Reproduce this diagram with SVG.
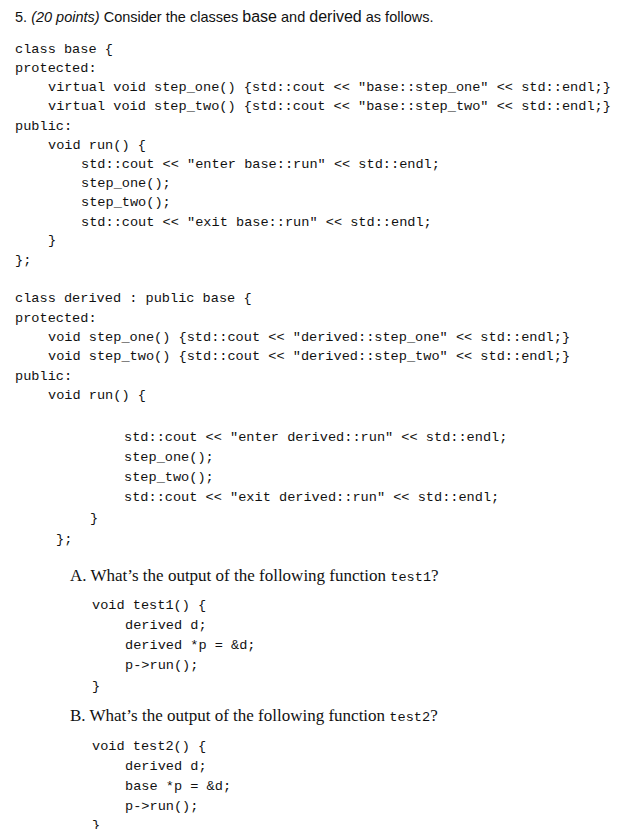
<svg xmlns="http://www.w3.org/2000/svg" width="622" height="829" viewBox="0 0 622 829">
<style>
.m{font-family:"Liberation Mono",monospace;font-size:13.6px;fill:#111;white-space:pre}
.s{font-family:"Liberation Serif",serif;font-size:17px;fill:#111}
.t{font-family:"Liberation Sans",sans-serif;font-size:14.5px;fill:#111}
</style>
<rect width="622" height="829" fill="#fff"/>
<g id="title"><text class="t" x="15" y="22">5. <tspan font-style="italic">(20 points)</tspan> Consider the classes <tspan font-size="16">base</tspan> and <tspan font-size="16">derived</tspan> as follows.</text></g>
<g id="base">
<text class="m" x="15" y="53">class base {</text>
<text class="m" x="15" y="72">protected:</text>
<text class="m" x="48" y="91">virtual void step_one() {std::cout &lt;&lt; "base::step_one" &lt;&lt; std::endl;}</text>
<text class="m" x="48" y="110">virtual void step_two() {std::cout &lt;&lt; "base::step_two" &lt;&lt; std::endl;}</text>
<text class="m" x="15" y="130">public:</text>
<text class="m" x="48" y="149">void run() {</text>
<text class="m" x="81" y="168">std::cout &lt;&lt; "enter base::run" &lt;&lt; std::endl;</text>
<text class="m" x="81" y="187">step_one();</text>
<text class="m" x="81" y="206">step_two();</text>
<text class="m" x="81" y="226">std::cout &lt;&lt; "exit base::run" &lt;&lt; std::endl;</text>
<text class="m" x="48" y="244">}</text>
<text class="m" x="15" y="264">};</text>
</g>
<g id="derived">
<text class="m" x="15" y="302">class derived : public base {</text>
<text class="m" x="15" y="322">protected:</text>
<text class="m" x="48" y="341">void step_one() {std::cout &lt;&lt; "derived::step_one" &lt;&lt; std::endl;}</text>
<text class="m" x="48" y="360">void step_two() {std::cout &lt;&lt; "derived::step_two" &lt;&lt; std::endl;}</text>
<text class="m" x="15" y="380">public:</text>
<text class="m" x="48" y="399">void run() {</text>
<text class="m" x="124" y="441">std::cout &lt;&lt; "enter derived::run" &lt;&lt; std::endl;</text>
<text class="m" x="124" y="461">step_one();</text>
<text class="m" x="124" y="481">step_two();</text>
<text class="m" x="124" y="501">std::cout &lt;&lt; "exit derived::run" &lt;&lt; std::endl;</text>
<text class="m" x="90" y="522">}</text>
<text class="m" x="56" y="543">};</text>
</g>
<g id="qA">
<text class="s" x="70" y="581">A. What’s the output of the following function <tspan class="m" font-size="14.5">test1</tspan>?</text>
<text class="m" x="92" y="609">void test1() {</text>
<text class="m" x="125" y="629">derived d;</text>
<text class="m" x="125" y="649">derived *p = &amp;d;</text>
<text class="m" x="125" y="669">p-&gt;run();</text>
<text class="m" x="92" y="690">}</text>
</g>
<g id="qB">
<text class="s" x="70" y="721">B. What’s the output of the following function <tspan class="m" font-size="14.5">test2</tspan>?</text>
<text class="m" x="92" y="750">void test2() {</text>
<text class="m" x="125" y="770">derived d;</text>
<text class="m" x="125" y="790">base *p = &amp;d;</text>
<text class="m" x="125" y="810">p-&gt;run();</text>
<text class="m" x="92" y="829">}</text>
</g>
</svg>
